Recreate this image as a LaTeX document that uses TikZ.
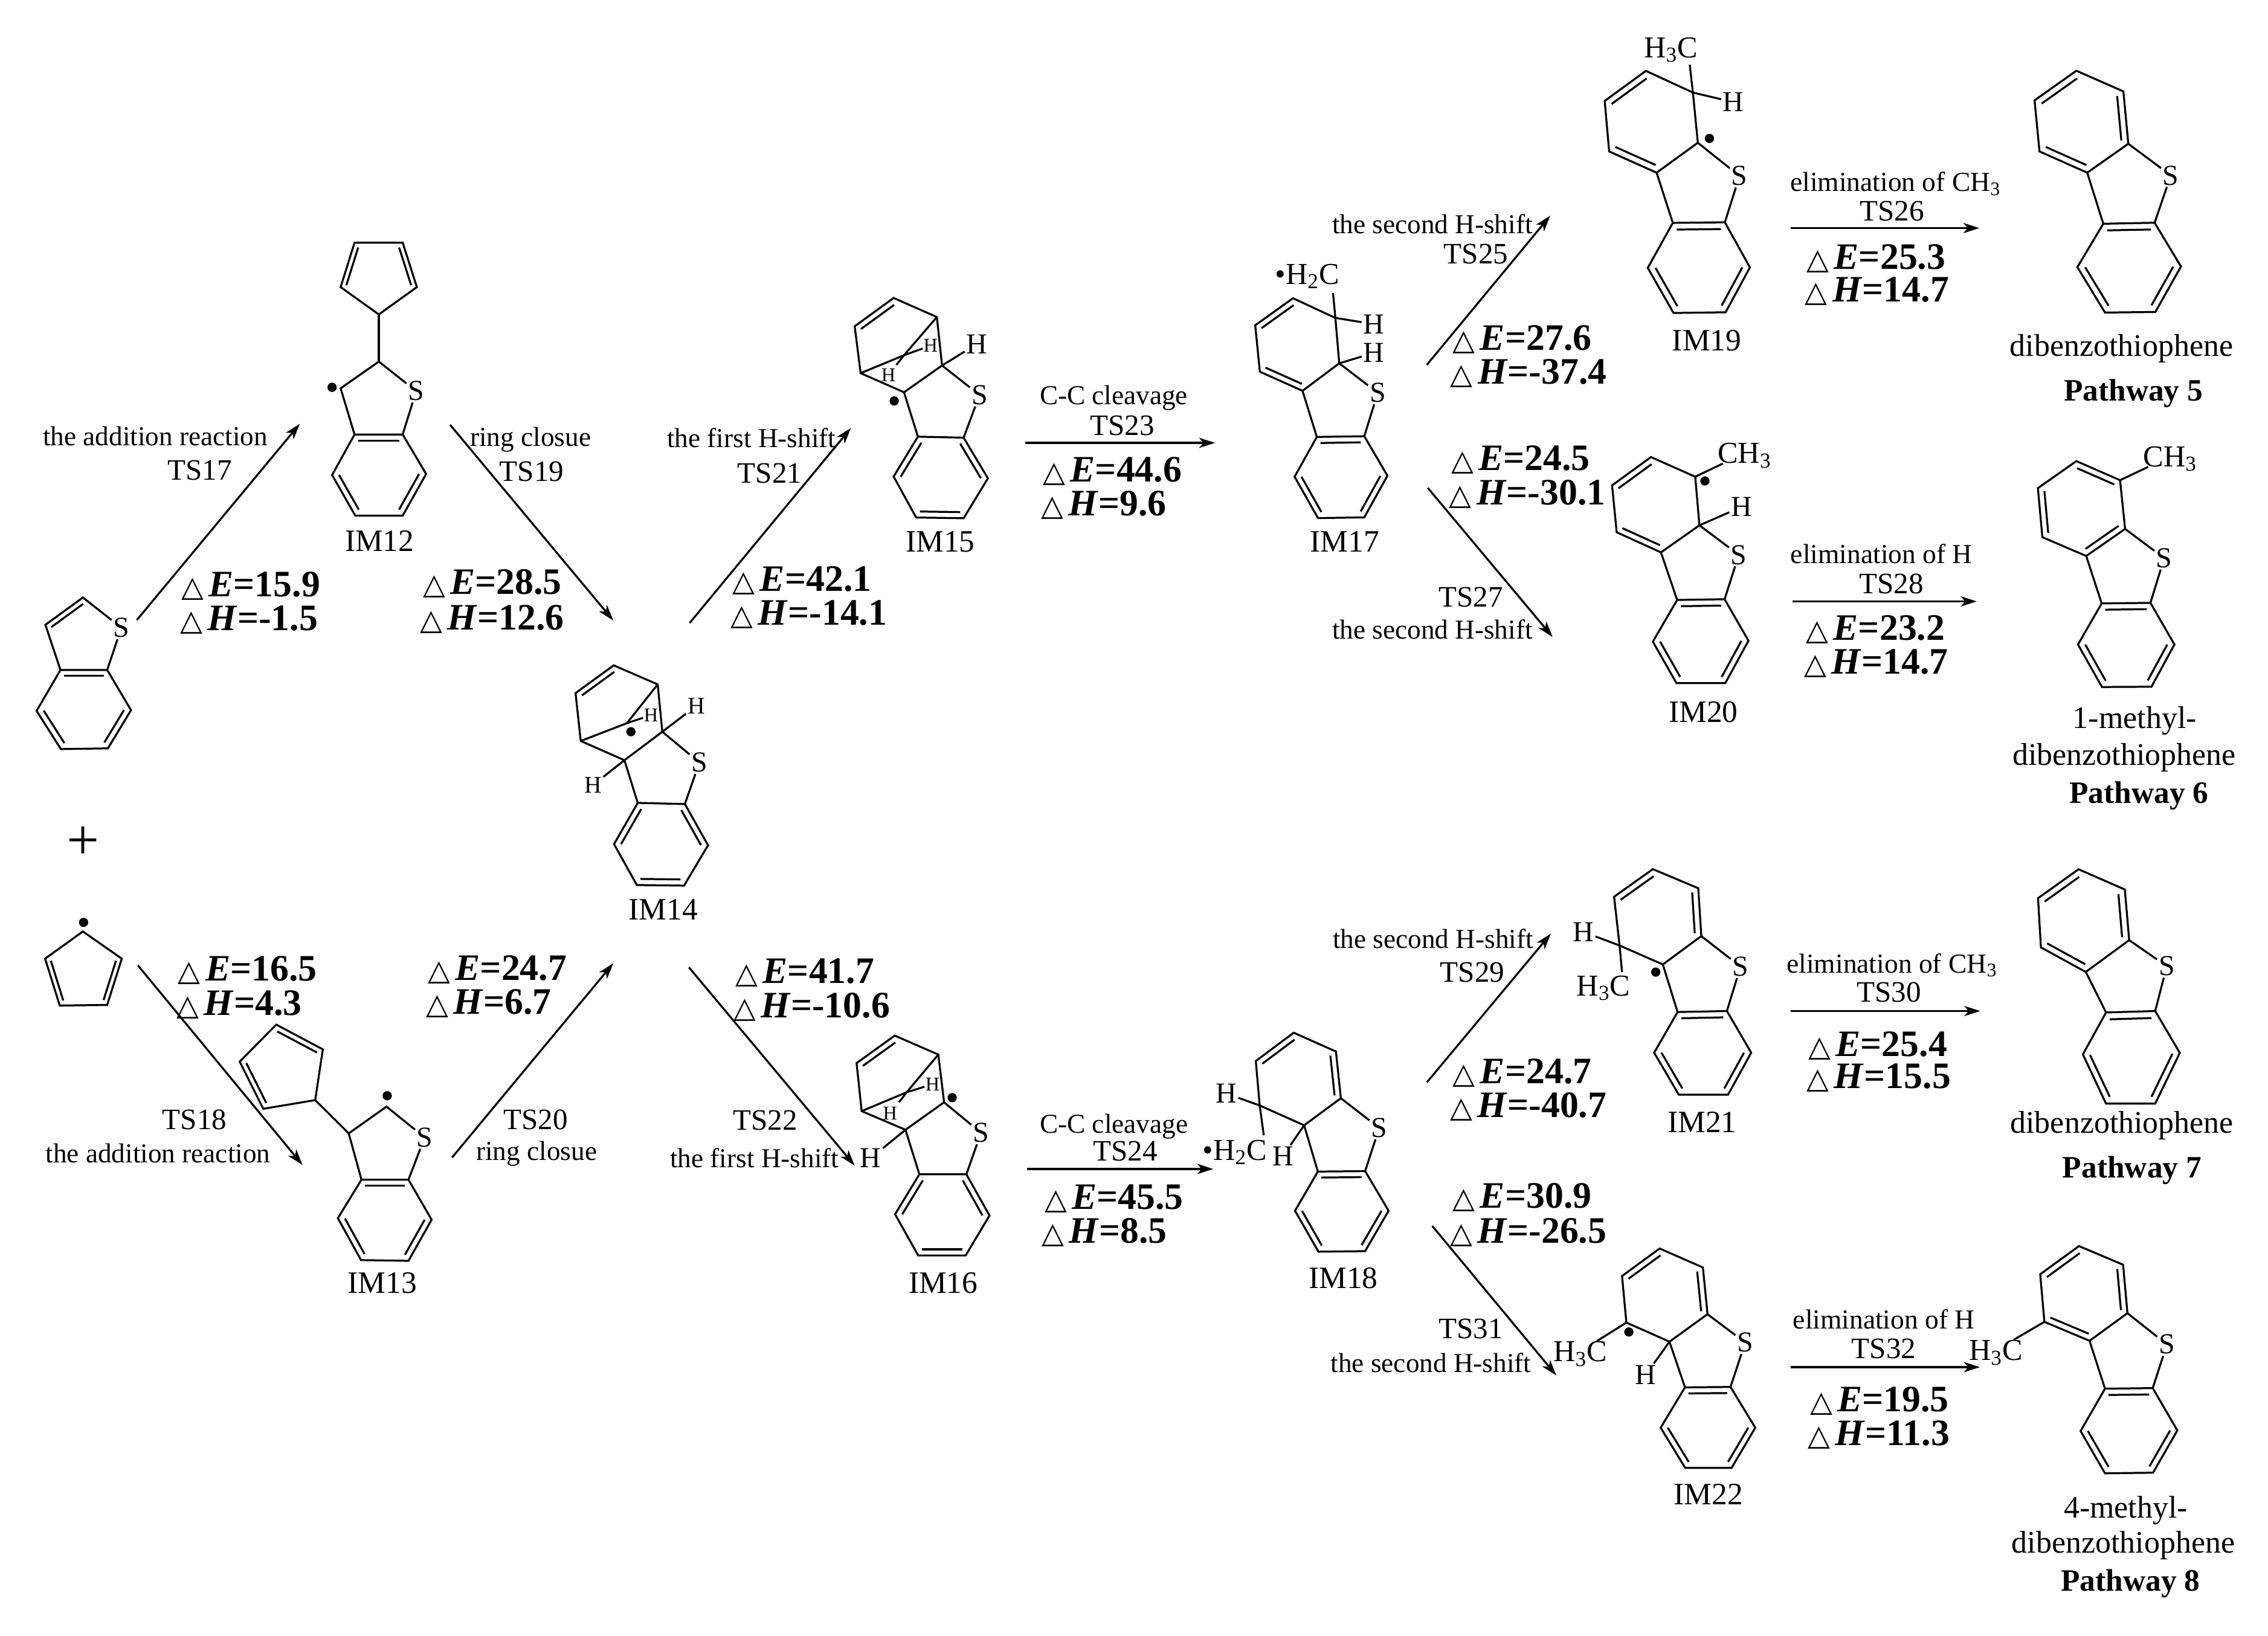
\documentclass[tikz,border=0pt]{standalone}
\usepackage{fontspec}
\setmainfont{Liberation Serif}
\newfontfamily\trifont{DejaVu Sans}
\usetikzlibrary{calc,arrows.meta}
\newcommand{\fsz}[1]{\fontsize{#1}{#1}\selectfont}
\newcommand{\dlt}[1]{{\fontsize{20}{20}\trifont\upshape △}\kern3.5pt\textit{#1}}
\newcommand{\dbl}[3]{\draw[bond] ($(#1)!0.15!(#3)$) -- ($(#2)!0.15!(#3)$);}
\newcommand{\benzoA}[7]{
    \coordinate (#1A) at (#2); \coordinate (#1B) at (#3); \coordinate (#1C) at (#4);
    \coordinate (#1D) at (#5); \coordinate (#1E) at (#6); \coordinate (#1F) at (#7);
    \coordinate (#1O) at ($(#1A)!0.5!(#1D)$);
    \draw[bond] (#1A) -- (#1B) -- (#1C) -- (#1D) -- (#1E) -- (#1F) -- cycle;
    \dbl{#1A}{#1B}{#1O} \dbl{#1C}{#1D}{#1O} \dbl{#1E}{#1F}{#1O}
}
\newcommand{\benzoB}[7]{
    \coordinate (#1A) at (#2); \coordinate (#1B) at (#3); \coordinate (#1C) at (#4);
    \coordinate (#1D) at (#5); \coordinate (#1E) at (#6); \coordinate (#1F) at (#7);
    \coordinate (#1O) at ($(#1A)!0.5!(#1D)$);
    \draw[bond] (#1A) -- (#1B) -- (#1C) -- (#1D) -- (#1E) -- (#1F) -- cycle;
    \dbl{#1F}{#1A}{#1O} \dbl{#1B}{#1C}{#1O} \dbl{#1D}{#1E}{#1O}
}
\tikzset{
    bond/.style={line width=1.35pt,line join=miter},
    rxnarrow/.style={line width=1.35pt,-{Stealth[length=11pt,width=7pt,inset=3pt]}},
    atomS/.style={inner sep=1pt,font=\fsz{20}},
    atomH/.style={inner sep=1pt,font=\fsz{20}},
    atomHm/.style={inner sep=1pt,font=\fsz{16.5}},
    atomHs/.style={inner sep=0.5pt,font=\fsz{13.5}},
    grp/.style={inner sep=0pt,text height=14pt,text depth=0pt,font=\fsz{21}},
    radical/.style={radius=3.2pt},
    rxn/.style={inner sep=0pt,text height=12.8pt,text depth=0pt,font=\fsz{18.9}},
    elim/.style={inner sep=0pt,text height=13pt,text depth=0pt,font=\fsz{19}},
    tslab/.style={inner sep=0pt,font=\fsz{20.5}},
    imlab/.style={inner sep=0pt,font=\fsz{21.5}},
    prodlab/.style={inner sep=0pt,text height=14.8pt,text depth=0pt,font=\fsz{21.7}},
    pathlab/.style={inner sep=0pt,text height=14.6pt,text depth=0pt,font=\fsz{21.5}\bfseries},
    enlab/.style={anchor=west,inner sep=0pt,text height=17pt,text depth=0pt,font=\fsz{25.8}\bfseries},
}
\begin{document}
\begin{tikzpicture}[x=1pt,y=-1pt]
    \useasboundingbox (0,0) rectangle (1568,1131);

    % reactants
    \benzoA{r}{41.8,463.2}{74.1,463.2}{90.6,491}{74.6,517.4}{42.1,517.9}{25.3,491.5}
    \node[atomS] (Sr) at (83.9,434) {S};
    \coordinate (r1) at (57.3,413.1);
    \coordinate (r2) at (31.4,432);
    \coordinate (r0) at (58,443);
    \draw[bond] (Sr) -- (r1) -- (r2) -- (rA);
    \draw[bond] (rB) -- (Sr);
    \dbl{r1}{r2}{r0}
    \node[inner sep=0pt,font=\fsz{40}] (plus) at (57.5,583) {+};
    \draw[bond] (57.3,644) coordinate (k1) -- (84.2,662.8) coordinate (k2) -- (74.1,694.8) coordinate (k3)
        -- (41.3,695.2) coordinate (k4) -- (31.2,662.8) coordinate (k5) -- cycle;
    \coordinate (k0) at (57.5,672);
    \dbl{k2}{k3}{k0}
    \dbl{k4}{k5}{k0}
    \fill[radical] (57.8,637.7) circle;

    % IM12
    \benzoA{a}{245.1,300.4}{278.4,300.4}{294.6,327.7}{278.4,356.5}{245.6,356.5}{229.6,328.4}
    \node[atomS] (Sa) at (287.7,270.4) {S};
    \coordinate (a1) at (261.9,250);
    \coordinate (a2) at (235.5,268.5);
    \draw[bond] (aA) -- (a2) -- (a1) -- (Sa) -- (aB);
    \draw[bond] (245.1,167.8) coordinate (a3) -- (278.4,167.8) coordinate (a4) -- (288.2,198.5) coordinate (a5)
        -- (261.9,217.4) coordinate (a6) -- (235.5,198.5) coordinate (a7) -- cycle;
    \coordinate (a0) at (261.9,190);
    \dbl{a3}{a7}{a0}
    \dbl{a4}{a5}{a0}
    \draw[bond] (a6) -- (a1);
    \fill[radical] (229.6,267.8) circle;
    \node[imlab] (im12) at (262.4,374) {IM12};

    % IM13
    \benzoA{b}{249.9,815.6}{282.4,815.6}{298.4,843.3}{282.4,871.7}{249.6,871.2}{233.6,842.2}
    \node[atomS] (Sb) at (293.6,786.4) {S};
    \coordinate (b1) at (241.1,783.6);
    \coordinate (b2) at (267.2,765.1);
    \draw[bond] (bA) -- (b1) -- (b2) -- (Sb) -- (bB);
    \draw[bond] (191,708.4) coordinate (b3) -- (223.2,725.5) coordinate (b4) -- (217.9,760.6) coordinate (b5)
        -- (182,766.6) coordinate (b6) -- (165.7,734) coordinate (b7) -- cycle;
    \coordinate (b0) at (196,740);
    \dbl{b3}{b4}{b0}
    \dbl{b6}{b7}{b0}
    \draw[bond] (b5) -- (b1);
    \fill[radical] (267.7,757.6) circle;
    \node[imlab] (im13) at (264.3,887) {IM13};

    % IM14
    \benzoB{c}{440.9,555.1}{473.5,555.9}{489.5,584.4}{472.9,612.3}{440.3,611.9}{424.5,583.6}
    \node[atomS] (Sc) at (483.5,527.2) {S};
    \node[atomHs] (Hc1) at (450.1,494.4) {H};
    \node[atomHm] (Hc2) at (481.4,488) {H};
    \node[atomHm] (Hc3) at (410,542.7) {H};
    \draw[bond] (397.9,479.2) coordinate (c1) -- (424.3,460) coordinate (c2) -- (454.7,473.2) coordinate (c3)
        -- (457.9,505.9) coordinate (c4) -- (431.7,525.6) coordinate (c5) -- (401.5,512.3) coordinate (c6) -- cycle;
    \coordinate (c7) at (433.4,500);
    \coordinate (c0) at (427,490);
    \dbl{c1}{c2}{c0}
    \draw[bond] (c3) -- (c7);
    \draw[bond] (c6) -- (c7) -- (Hc1);
    \draw[bond] (c4) -- (Hc2);
    \draw[bond] (c5) -- (Hc3);
    \draw[bond] (c4) -- (Sc) -- (cB);
    \draw[bond] (c5) -- (cA);
    \fill[radical] (436.2,505.9) circle;
    \node[imlab] (im14) at (458.6,629) {IM14};

    % IM15
    \benzoB{d}{634.6,301.9}{666.2,302.6}{683,330.7}{666.2,358.3}{633.4,357.8}{617.8,329.5}
    \node[atomS] (Sd) at (677.2,273.1) {S};
    \node[atomHs] (Hd1) at (643.4,239) {H};
    \node[atomHs] (Hd2) at (614.2,259.5) {H};
    \node[atomH] (Hd3) at (675.3,237.9) {H};
    \draw[bond] (590.9,225.6) coordinate (d1) -- (617.8,206) coordinate (d2) -- (647.7,219.2) coordinate (d3)
        -- (651.3,252.7) coordinate (d4) -- (625,271.2) coordinate (d5) -- (595,258) coordinate (d6) -- cycle;
    \coordinate (d7) at (625,245.6);
    \coordinate (d0) at (620,238);
    \dbl{d1}{d2}{d0}
    \draw[bond] (d3) -- (d7) -- (619.7,252.3) coordinate (d8);
    \draw[bond] (d6) -- (d7) -- (Hd1);
    \draw[bond] (d4) -- (Hd3);
    \draw[bond] (d4) -- (Sd) -- (dB);
    \draw[bond] (d5) -- (dA);
    \fill[radical] (618.2,277.2) circle;
    \node[imlab] (im15) at (650.1,374.6) {IM15};

    % IM16
    \benzoB{e}{635.6,811.9}{668.1,811.9}{684.1,840.4}{667.6,868}{634.8,868}{618.8,839.5}
    \node[atomS] (Se) at (678.2,783.2) {S};
    \node[atomHs] (He1) at (644.7,749.6) {H};
    \node[atomHs] (He2) at (615.4,769.6) {H};
    \node[atomH] (He3) at (602,800.7) {H};
    \draw[bond] (592.2,735) coordinate (e1) -- (618.6,716) coordinate (e2) -- (648.7,729.1) coordinate (e3)
        -- (652.7,762.1) coordinate (e4) -- (626,781.1) coordinate (e5) -- (595.7,768.2) coordinate (e6) -- cycle;
    \coordinate (e7) at (626.8,755.2);
    \coordinate (e0) at (621,748);
    \dbl{e1}{e2}{e0}
    \draw[bond] (e3) -- (e7) -- (621.5,762.1) coordinate (e8);
    \draw[bond] (e6) -- (e7) -- (He1);
    \draw[bond] (e5) -- (He3);
    \draw[bond] (e4) -- (Se) -- (eB);
    \draw[bond] (e5) -- (eA);
    \fill[radical] (658.3,758.9) circle;
    \node[imlab] (im16) at (652.1,887) {IM16};

    % IM17
    \benzoA{f}{910.4,302.1}{943.2,301.6}{959.2,328.9}{943.2,357.7}{911.2,358.2}{895,329.6}
    \node[atomS] (Sf) at (952.5,271.6) {S};
    \node[atomH] (Hf1) at (949.8,224.1) {H};
    \node[atomH] (Hf2) at (949.8,244) {H};
    \node[grp] (CHf) at (903.7,189.4) {•H\textsubscript{2}C};
    \draw[bond] (923.2,219.8) coordinate (f6) -- (893.9,206.2) coordinate (f1) -- (867.8,224.9) coordinate (f2)
        -- (871,257) coordinate (f3) -- (900.5,270.2) coordinate (f4) -- (925.9,251.2) coordinate (f5);
    \coordinate (f0) at (897,238);
    \coordinate (f7) at (921.6,202.6);
    \dbl{f1}{f2}{f0}
    \dbl{f3}{f4}{f0}
    \draw[bond] (f7) -- (f6) -- (f5);
    \draw[bond] (f6) -- (Hf1);
    \draw[bond] (f5) -- (Hf2);
    \draw[bond] (f5) -- (Sf) -- (fB);
    \draw[bond] (f4) -- (fA);
    \node[imlab] (im17) at (929.6,374.5) {IM17};

    % IM18
    \benzoA{g}{911.1,810}{943.8,809.7}{960,837.1}{943.8,865}{911.5,865.4}{895.3,837.1}
    \node[atomS] (Sg) at (953.5,779.8) {S};
    \node[atomH] (Hg1) at (847.7,756) {H};
    \node[atomH] (Hg2) at (886.9,799.4) {H};
    \node[grp] (CHg) at (853.7,795) {•H\textsubscript{2}C};
    \draw[bond] (870.9,764.3) coordinate (g6) -- (868.2,733.6) coordinate (g1) -- (894.4,714) coordinate (g2)
        -- (923.6,727) coordinate (g3) -- (927,759.3) coordinate (g4) -- (901.6,778) coordinate (g5) -- cycle;
    \coordinate (g0) at (898,746);
    \coordinate (g7) at (873.7,784.9);
    \dbl{g1}{g2}{g0}
    \dbl{g3}{g4}{g0}
    \draw[bond] (g6) -- (g7);
    \draw[bond] (g6) -- (Hg1);
    \draw[bond] (g5) -- (Hg2);
    \draw[bond] (g4) -- (Sg) -- (gB);
    \draw[bond] (g5) -- (gA);
    \node[imlab] (im18) at (928.7,883.7) {IM18};

    % IM19
    \benzoA{h}{1156.5,154.1}{1192.5,153.7}{1209.8,184.9}{1193,215.9}{1157,216.4}{1139.2,185.2}
    \node[atomS] (Sh) at (1202.6,121.7) {S};
    \node[atomH] (Hh) at (1198.3,70.6) {H};
    \node[grp] (CHh) at (1155.2,32.9) {H\textsubscript{3}C};
    \draw[bond] (1170.4,64) coordinate (h6) -- (1137.9,49) coordinate (h1) -- (1109.4,69.8) coordinate (h2)
        -- (1112.5,104.7) coordinate (h3) -- (1145.3,119.4) coordinate (h4) -- (1173.8,98.7) coordinate (h5) -- cycle;
    \coordinate (h0) at (1141,84);
    \coordinate (h7) at (1168.2,44.7);
    \dbl{h1}{h2}{h0}
    \dbl{h3}{h4}{h0}
    \draw[bond] (h6) -- (h7);
    \draw[bond] (h6) -- (Hh);
    \draw[bond] (h5) -- (Sh) -- (hB);
    \draw[bond] (h4) -- (hA);
    \fill[radical] (1181.8,95.7) circle;
    \node[imlab] (im19) at (1180,235.4) {IM19};

    % IM20
    \benzoA{i}{1159.5,414.8}{1192.3,414.3}{1208.8,443}{1192.8,472.3}{1159,472.3}{1142.7,443.6}
    \node[atomS] (Si) at (1202.1,383.6) {S};
    \node[atomH] (Hi) at (1204,350.5) {H};
    \node[grp] (CHi) at (1206.1,313.3) {CH\textsubscript{3}};
    \draw[bond] (1172,329.6) coordinate (i6) -- (1141.4,316) coordinate (i1) -- (1114.5,335.6) coordinate (i2)
        -- (1117.7,368) coordinate (i3) -- (1148.3,381.9) coordinate (i4) -- (1174.9,363.2) coordinate (i5) -- cycle;
    \coordinate (i0) at (1144,349);
    \dbl{i1}{i2}{i0}
    \dbl{i3}{i4}{i0}
    \draw[bond] (i6) -- (CHi);
    \draw[bond] (i5) -- (Hi);
    \draw[bond] (i5) -- (Si) -- (iB);
    \draw[bond] (i4) -- (iA);
    \fill[radical] (1178.7,332.5) circle;
    \node[imlab] (im20) at (1177.6,492.2) {IM20};

    % IM21
    \benzoA{j}{1159.8,699.7}{1193.9,699}{1210.7,727.8}{1194.7,756.8}{1160.6,756.8}{1143.6,727.8}
    \node[atomS] (Sj) at (1203.3,668.3) {S};
    \node[atomH] (Hj) at (1094.6,644.3) {H};
    \node[grp] (CHj) at (1108.6,681.5) {H\textsubscript{3}C};
    \draw[bond] (1119.7,653.7) coordinate (j6) -- (1115.9,620) coordinate (j1) -- (1142.7,600.9) coordinate (j2)
        -- (1174.1,614.1) coordinate (j3) -- (1176.2,647.2) coordinate (j4) -- (1149.6,666.8) coordinate (j5) -- cycle;
    \coordinate (j0) at (1146,634);
    \coordinate (j7) at (1121.4,672.1);
    \dbl{j1}{j2}{j0}
    \dbl{j3}{j4}{j0}
    \draw[bond] (j6) -- (j7);
    \draw[bond] (j6) -- (Hj);
    \draw[bond] (j4) -- (Sj) -- (jB);
    \draw[bond] (j5) -- (jA);
    \fill[radical] (1144.7,672.1) circle;
    \node[imlab] (im21) at (1176.8,775.8) {IM21};

    % IM22
    \benzoA{l}{1164.9,959.2}{1196.4,958.9}{1213.5,987.1}{1197.1,1014.9}{1165.1,1014.9}{1148.1,987.1}
    \node[atomS] (Sl) at (1206.5,928.2) {S};
    \node[atomH] (Hl) at (1137.8,950.5) {H};
    \node[grp] (CHl) at (1092.5,934.4) {H\textsubscript{3}C};
    \draw[bond] (1124.4,914.4) coordinate (l6) -- (1121.4,882.2) coordinate (l1) -- (1147.4,863.2) coordinate (l2)
        -- (1177.3,876.3) coordinate (l3) -- (1180.5,908.6) coordinate (l4) -- (1154.2,927.6) coordinate (l5) -- cycle;
    \coordinate (l0) at (1151,895);
    \dbl{l1}{l2}{l0}
    \dbl{l3}{l4}{l0}
    \draw[bond] (l6) -- (CHl);
    \draw[bond] (l5) -- (Hl);
    \draw[bond] (l4) -- (Sl) -- (lB);
    \draw[bond] (l5) -- (lA);
    \fill[radical] (1126.1,920.9) circle;
    \node[imlab] (im22) at (1181.1,1033.1) {IM22};

    % products
    \benzoB{u}{1435.5,48.9}{1468,63.2}{1471.4,99.4}{1443,119.4}{1410,104.7}{1406.6,69.4}
    \benzoA{v}{1454.1,154.7}{1489.6,154}{1507.8,184.3}{1490.1,215.7}{1455.3,216.1}{1436.2,184.7}
    \node[atomS] (Su) at (1500.8,121.3) {S};
    \draw[bond] (uC) -- (Su) -- (vB);
    \draw[bond] (uD) -- (vA);
    \node[prodlab] (prod5) at (1466.7,238.9) {dibenzothiophene};
    \node[pathlab] (path5) at (1474.9,270) {Pathway 5};

    \benzoB{m}{1435.5,318.8}{1408.9,337.5}{1412,371.4}{1442.3,384.4}{1469.2,365.7}{1465.7,332}
    \benzoA{n}{1453,417.2}{1486.7,416.8}{1503.3,445.6}{1487.4,474.8}{1453.2,475}{1436.6,445.6}
    \node[atomS] (Sm) at (1496.2,385.9) {S};
    \node[grp] (CHm) at (1500.3,315.6) {CH\textsubscript{3}};
    \draw[bond] (mE) -- (Sm) -- (nB);
    \draw[bond] (mD) -- (nA);
    \draw[bond] (mF) -- (CHm);
    \node[prodlab] (prod6a) at (1475.8,496.1) {1-methyl-};
    \node[prodlab] (prod6b) at (1468.5,521.7) {dibenzothiophene};
    \node[pathlab] (path6) at (1478.7,547.9) {Pathway 6};

    \benzoB{w}{1437,601}{1469,615}{1472,650}{1442,672}{1411,655}{1409,621}
    \benzoA{x}{1456,700}{1490,699}{1507,728}{1490,763}{1456,763}{1440,729}
    \node[atomS] (Sw) at (1498,668) {S};
    \draw[bond] (wC) -- (Sw) -- (xB);
    \draw[bond] (wD) -- (xA);
    \node[prodlab] (prod7) at (1467,776) {dibenzothiophene};
    \node[pathlab] (path7) at (1474,807) {Pathway 7};

    \benzoB{s}{1437.3,861.5}{1467.8,874.4}{1470.8,907.9}{1444.6,927}{1413.4,913.9}{1410.5,881}
    \benzoA{t}{1455.3,960.1}{1488.3,959.7}{1505.3,989}{1488.5,1018.2}{1455.3,1018.6}{1438.4,989.4}
    \node[atomS] (Ss) at (1498.1,929.5) {S};
    \node[grp] (CHs) at (1379.8,933.5) {H\textsubscript{3}C};
    \draw[bond] (sC) -- (Ss) -- (tB);
    \draw[bond] (sD) -- (tA);
    \draw[bond] (sE) -- (CHs);
    \node[prodlab] (prod8a) at (1469.6,1042) {4-methyl-};
    \node[prodlab] (prod8b) at (1468,1066.2) {dibenzothiophene};
    \node[pathlab] (path8) at (1473,1092.8) {Pathway 8};

    % arrows
    \coordinate (s17) at (94.6,428.7);   \coordinate (t17) at (207.3,293);
    \coordinate (s18) at (95.4,667.5);   \coordinate (t18) at (209.1,805.4);
    \coordinate (s19) at (311.2,293.7);  \coordinate (t19) at (424,429);
    \coordinate (s20) at (312.5,800.3);  \coordinate (t20) at (424,666);
    \coordinate (s21) at (476.8,430.7);  \coordinate (t21) at (588.3,295.9);
    \coordinate (s22) at (476.3,668.8);  \coordinate (t22) at (590.9,805.9);
    \coordinate (s23) at (708.9,306.2);  \coordinate (t23) at (840,306.2);
    \coordinate (s24) at (710.2,808.2);  \coordinate (t24) at (838.8,808.2);
    \coordinate (s25) at (986.4,252.3);  \coordinate (t25) at (1071.8,149.1);
    \coordinate (s26) at (1238,157.7);   \coordinate (t26) at (1368.4,157.7);
    \coordinate (s27) at (987.1,337.3);  \coordinate (t27) at (1073.4,440.4);
    \coordinate (s28) at (1239.2,415.8); \coordinate (t28) at (1366.6,415.8);
    \coordinate (s29) at (986.5,748.3);  \coordinate (t29) at (1072.2,645.5);
    \coordinate (s30) at (1238,699);     \coordinate (t30) at (1369,699);
    \coordinate (s31) at (990.2,847.6);  \coordinate (t31) at (1076,951);
    \coordinate (s32) at (1238,945.2);   \coordinate (t32) at (1368.8,945.2);
    \foreach \k in {17,...,32} {
        \draw[rxnarrow] (s\k) -- (t\k);
    }

    % reaction labels
    \node[rxn] (add17) at (107.4,301.6) {the addition reaction};
    \node[tslab] (ts17) at (138,325.3) {TS17};
    \node[tslab] (ts18) at (134.5,774) {TS18};
    \node[rxn] (add18) at (109.2,797.5) {the addition reaction};
    \node[rxn] (ring19) at (366.8,302) {ring closue};
    \node[tslab] (ts19) at (367.6,326) {TS19};
    \node[tslab] (ts20) at (370.3,774) {TS20};
    \node[rxn] (ring20) at (371,795.8) {ring closue};
    \node[rxn] (sh21) at (519.5,303.1) {the first H-shift};
    \node[tslab] (ts21) at (532.2,327.1) {TS21};
    \node[tslab] (ts22) at (529,774.6) {TS22};
    \node[rxn] (sh22) at (521.6,800.7) {the first H-shift};
    \node[rxn] (cc23) at (770,273.1) {C-C cleavage};
    \node[tslab] (ts23) at (776,294.2) {TS23};
    \node[rxn] (cc24) at (770.1,777) {C-C cleavage};
    \node[tslab] (ts24) at (777.9,796) {TS24};
    \node[rxn] (sh25) at (990.3,155.1) {the second H-shift};
    \node[tslab] (ts25) at (1020.4,175.5) {TS25};
    \node[tslab] (ts27) at (1017,412.9) {TS27};
    \node[rxn] (sh27) at (990.3,435.2) {the second H-shift};
    \node[rxn] (sh29) at (990.8,649.3) {the second H-shift};
    \node[tslab] (ts29) at (1017.9,672.1) {TS29};
    \node[tslab] (ts31) at (1017,918.8) {TS31};
    \node[rxn] (sh31) at (989.3,942.3) {the second H-shift};
    \node[elim] (el26) at (1310.4,125.6) {elimination of CH\textsubscript{3}};
    \node[tslab] (ts26) at (1308.1,146) {TS26};
    \node[elim] (el28) at (1300.8,383.1) {elimination of H};
    \node[tslab] (ts28) at (1307.6,403.6) {TS28};
    \node[elim] (el30) at (1308,666) {elimination of CH\textsubscript{3}};
    \node[tslab] (ts30) at (1306,686) {TS30};
    \node[elim] (el32) at (1302.4,912.3) {elimination of H};
    \node[tslab] (ts32) at (1302.4,932.5) {TS32};

    % energies
    \node[enlab] (dE17) at (125.2,404) {\dlt{E}=15.9};
    \node[enlab] (dH17) at (124.4,427.2) {\dlt{H}=-1.5};
    \node[enlab] (dE18) at (123,669.6) {\dlt{E}=16.5};
    \node[enlab] (dH18) at (122,693.5) {\dlt{H}=4.3};
    \node[enlab] (dE19) at (292.2,402.3) {\dlt{E}=28.5};
    \node[enlab] (dH19) at (290.4,426.8) {\dlt{H}=12.6};
    \node[enlab] (dE20) at (295.7,669.2) {\dlt{E}=24.7};
    \node[enlab] (dH20) at (294.4,692.6) {\dlt{H}=6.7};
    \node[enlab] (dE21) at (506.3,400.2) {\dlt{E}=42.1};
    \node[enlab] (dH21) at (505,423.7) {\dlt{H}=-14.1};
    \node[enlab] (dE22) at (508.3,671.3) {\dlt{E}=41.7};
    \node[enlab] (dH22) at (507,695) {\dlt{H}=-10.6};
    \node[enlab] (dE23) at (720.9,324.7) {\dlt{E}=44.6};
    \node[enlab] (dH23) at (719.7,348.2) {\dlt{H}=9.6};
    \node[enlab] (dE24) at (722,827.4) {\dlt{E}=45.5};
    \node[enlab] (dH24) at (720,850.7) {\dlt{H}=8.5};
    \node[enlab] (dE25) at (1004.2,233.7) {\dlt{E}=27.6};
    \node[enlab] (dH25) at (1002.6,257) {\dlt{H}=-37.4};
    \node[enlab] (dE26) at (1248.9,177.5) {\dlt{E}=25.3};
    \node[enlab] (dH26) at (1247.8,200.2) {\dlt{H}=14.7};
    \node[enlab] (dE27) at (1003.1,316.5) {\dlt{E}=24.5};
    \node[enlab] (dH27) at (1001.8,340.4) {\dlt{H}=-30.1};
    \node[enlab] (dE28) at (1248.5,433.9) {\dlt{E}=23.2};
    \node[enlab] (dH28) at (1247.1,457.3) {\dlt{H}=14.7};
    \node[enlab] (dE29) at (1004.2,740.7) {\dlt{E}=24.7};
    \node[enlab] (dH29) at (1002.5,764.1) {\dlt{H}=-40.7};
    \node[enlab] (dE30) at (1250,722) {\dlt{E}=25.4};
    \node[enlab] (dH30) at (1249,744) {\dlt{H}=15.5};
    \node[enlab] (dE31) at (1004.2,826.5) {\dlt{E}=30.9};
    \node[enlab] (dH31) at (1002.5,850.8) {\dlt{H}=-26.5};
    \node[enlab] (dE32) at (1251.2,967.4) {\dlt{E}=19.5};
    \node[enlab] (dH32) at (1249.6,991) {\dlt{H}=11.3};
\end{tikzpicture}
\end{document}
